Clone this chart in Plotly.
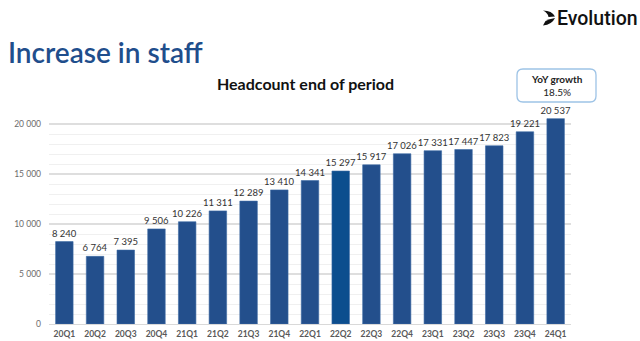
import plotly.graph_objects as go

quarters = ["20Q1", "20Q2", "20Q3", "20Q4", "21Q1", "21Q2", "21Q3", "21Q4", "22Q1",
            "22Q2", "22Q3", "22Q4", "23Q1", "23Q2", "23Q3", "23Q4", "24Q1"]
headcount = [8240, 6764, 7395, 9506, 10226, 11311, 12289, 13410, 14341,
             15297, 15917, 17026, 17331, 17447, 17823, 19221, 20537]
highlight_quarter = "22Q2"
yoy_growth = "18.5%"

W, H = 640, 341
ML, MR, MT, MB = 49, 69, 114, 17
PW, PH = W - ML - MR, H - MT - MB


def px(x):
    return (x - ML) / PW


def py(y):
    return (H - MB - y) / PH


base_col = "#234f8c"
hi_col = "#0c4e8e"
colors = [hi_col if q == highlight_quarter else base_col for q in quarters]
labels = [f"{v:,}".replace(",", " ") for v in headcount]

fig = go.Figure(go.Bar(
    x=quarters, y=headcount, marker=dict(color=colors, line=dict(color="#3d6aa5", width=0.6)),
    text=labels, textposition="outside", cliponaxis=False, constraintext="none",
    textfont=dict(family="Lato", size=9.5, color="#333333"),
))

fig.update_layout(
    width=W, height=H, margin=dict(l=ML, r=MR, t=MT, b=MB),
    paper_bgcolor="white", plot_bgcolor="white", showlegend=False,
    separators=". ", bargap=0.43,
    font=dict(family="Lato"),
)
fig.update_xaxes(
    automargin=False, showline=True, linecolor="#d9d9d9", linewidth=1, ticks="",
    tickfont=dict(family="Lato", size=8.5, color="#595959", weight="bold"),
    ticklabelstandoff=2,
)
fig.update_yaxes(
    automargin=False, range=[0, 21000], dtick=5000, tickformat=",d", showline=False,
    zeroline=False, gridcolor="#dedede", gridwidth=1.5,
    minor=dict(dtick=1000, showgrid=True, gridcolor="#f0f0f0", gridwidth=1),
    tickfont=dict(family="Lato", size=8.5, color="#6b6b6b"), ticklabelstandoff=7,
)

annotations = [
    dict(text="Increase in staff", x=px(6), y=py(52), xanchor="left", yanchor="middle",
         font=dict(family="Lato", size=28, color="#1f4e8c", weight=600)),
    dict(text="<b>Headcount end of period</b>", x=px(305), y=py(83), xanchor="center",
         yanchor="middle", font=dict(family="Lato", size=16, color="#111111")),
    dict(text=f"<b>YoY growth</b><br>{yoy_growth}", x=px(556.5), y=py(85.5), xanchor="center",
         yanchor="middle", font=dict(family="Lato", size=10, color="#222222")),
    dict(text="Evolution", x=px(555), y=py(18.5), xanchor="left", yanchor="middle",
         font=dict(family="Roboto", size=19.5, color="#111111", weight=500)),
]
for a in annotations:
    a.update(xref="paper", yref="paper", showarrow=False)
fig.update_layout(annotations=annotations)


def rounded_box(x0, y0, x1, y1, r):
    pts = (f"M {px(x0 + r)},{py(y0)} L {px(x1 - r)},{py(y0)} "
           f"Q {px(x1)},{py(y0)} {px(x1)},{py(y0 + r)} L {px(x1)},{py(y1 - r)} "
           f"Q {px(x1)},{py(y1)} {px(x1 - r)},{py(y1)} L {px(x0 + r)},{py(y1)} "
           f"Q {px(x0)},{py(y1)} {px(x0)},{py(y1 - r)} L {px(x0)},{py(y0 + r)} "
           f"Q {px(x0)},{py(y0)} {px(x0 + r)},{py(y0)} Z")
    return pts


def logo_mark():
    top = (f"M {px(543)},{py(10.5)} Q {px(552)},{py(10.5)} {px(555)},{py(16.5)} "
           f"L {px(548.5)},{py(17)} Q {px(548)},{py(13)} {px(543)},{py(10.5)} Z")
    bot = (f"M {px(555)},{py(18)} Q {px(552)},{py(24.5)} {px(543)},{py(25.5)} "
           f"L {px(545.5)},{py(21)} Q {px(549)},{py(19)} {px(555)},{py(18)} Z")
    return top, bot


shapes = [dict(type="path", path=rounded_box(517, 69, 596, 102, 6), xref="paper", yref="paper",
               line=dict(color="#9dc3e6", width=1.3), fillcolor="white")]
for p in logo_mark():
    shapes.append(dict(type="path", path=p, xref="paper", yref="paper",
                       line=dict(width=0), fillcolor="#111111"))
fig.update_layout(shapes=shapes)

fig.write_html("out.html")
